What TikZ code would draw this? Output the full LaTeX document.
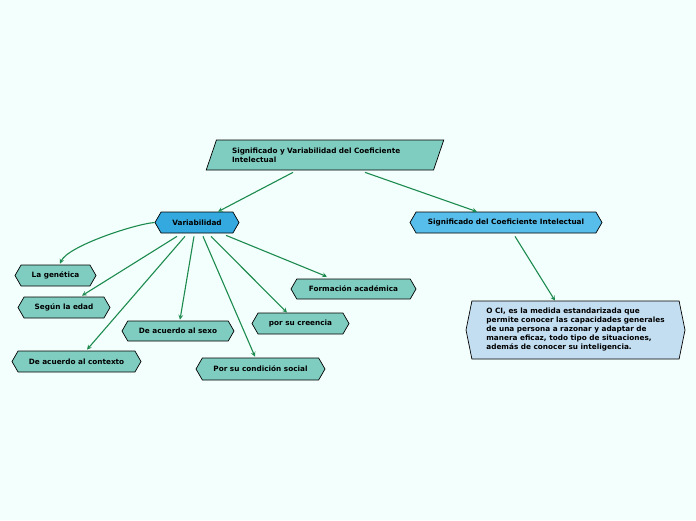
\documentclass[tikz,border=0pt]{standalone}
\usepackage{fontspec}
\setmainfont{DejaVu Sans}
\usetikzlibrary{%
  calc,%
  shapes.geometric,%
  shapes.symbols%
}
\tikzset{>=stealth}
\definecolor{fondo}{HTML}{F3FFFC}
\definecolor{verde}{HTML}{1C8A4F}
\definecolor{turquesa}{HTML}{7FCDC0}
\definecolor{azul}{HTML}{33A9DF}
\definecolor{celeste}{HTML}{57BDEB}
\definecolor{palido}{HTML}{C3DEF1}
\tikzset{
  hexa/.style={signal, signal to=west and east, signal pointer angle=120,
    draw=black, line width=0.7pt, inner sep=1pt, minimum height=21pt,
    font=\fontsize{7.3}{9}\selectfont\bfseries},
  hoja/.style={hexa, fill=turquesa},
  link/.style={->, draw=verde, line width=1.1pt}
}

\begin{document}
\begin{tikzpicture}[x=1pt,y=-1pt]
        \fill[fondo] (0,0) rectangle (696,520);
        \useasboundingbox (0,0) rectangle (696,520);
        \node[trapezium, trapezium left angle=62, trapezium right angle=118,
        trapezium stretches=true, draw=black, line width=0.7pt, fill=turquesa,
        minimum width=238pt, minimum height=30pt, text width=186pt, align=left,
        inner sep=1pt, font=\fontsize{7.3}{9}\selectfont\bfseries] (titulo) at (325,155)
        {Significado y Variabilidad del Coeficiente\\Intelectual};
        \node[hexa, fill=azul, minimum width=84pt] (var) at (197,222.5) {Variabilidad};
        \node[hexa, fill=celeste, minimum width=192pt] (sig) at (506,222.5)
        {Significado del Coeficiente Intelectual};
        \node[hexa, fill=palido, signal pointer angle=157, minimum width=219pt,
        minimum height=58pt, align=left] (def) at (575.5,330)
        {O CI, es la medida estandarizada que\\permite conocer las capacidades generales\\
        de una persona a razonar y adaptar de\\manera eficaz, todo tipo de situaciones,\\
        además de conocer su inteligencia.};
        \node[hoja, minimum width=81pt] (gen) at (55.5,275.5) {La genética};
        \node[hoja, minimum width=92pt] (edad) at (64,307.5) {Según la edad};
        \node[hoja, minimum width=129pt] (contexto) at (76.5,361.5) {De acuerdo al contexto};
        \node[hoja, minimum width=112pt, minimum height=20pt] (sexo) at (178,331) {De acuerdo al sexo};
        \node[hoja, minimum width=125pt, minimum height=20pt] (formacion) at (353.5,289) {Formación académica};
        \node[hoja, minimum width=97pt] (creencia) at (300.5,323.5) {por su creencia};
        \node[hoja, minimum width=129pt, minimum height=22pt] (social) at (260.5,369) {Por su condición social};
        \draw[link] ([xshift=-32pt,yshift=-2pt]titulo.south) -- ([xshift=21pt]var.north);
        \draw[link] ([xshift=40pt,yshift=-2pt]titulo.south) -- ([xshift=-29pt]sig.north);
        \draw[link] ([xshift=9pt,yshift=-3pt]sig.south) -- ([xshift=-20.5pt]def.north);
        \draw[link] (var.west) .. controls (135,224) and (68,246) .. ([xshift=4.5pt,yshift=1pt]gen.north);
        \draw[link] ([xshift=-20pt,yshift=-3pt]var.south) -- ([xshift=18pt,yshift=1pt]edad.north);
        \draw[link] ([xshift=-12pt,yshift=-3pt]var.south) -- ([xshift=10.5pt,yshift=1pt]contexto.north);
        \draw[link] ([xshift=-3pt,yshift=-3pt]var.south) -- ([xshift=2pt,yshift=1pt]sexo.north);
        \draw[link] ([xshift=6pt,yshift=-3pt]var.south) -- ([xshift=-5.5pt,yshift=1pt]social.north);
        \draw[link] ([xshift=14pt,yshift=-3pt]var.south) -- ([xshift=-13.5pt]creencia.north);
        \draw[link] ([xshift=29pt,yshift=-2pt]var.south) -- ([xshift=-26.5pt,yshift=2pt]formacion.north);
      \end{tikzpicture}
\end{document}
